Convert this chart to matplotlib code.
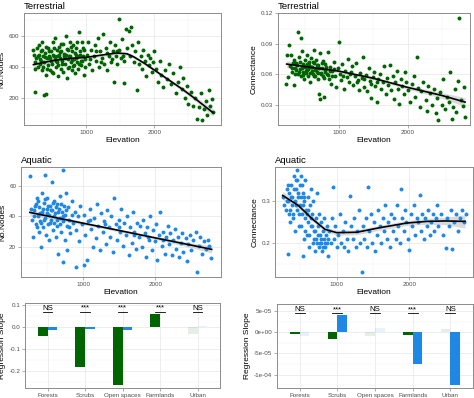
import numpy as np
import matplotlib
matplotlib.use('Agg')
import matplotlib.pyplot as plt
from matplotlib.ticker import MultipleLocator, FixedLocator

plt.rcParams['font.family'] = ['Liberation Sans', 'DejaVu Sans']

W, H = 474, 398
GREEN = '#006400'
BLUE = '#1F88E5'

# ---- Terrestrial, number of nodes ----
tn_elev = [230, 240, 250, 254, 260, 270, 280, 290, 300, 310, 320, 330, 340, 350, 360, 370, 380, 390, 400, 410,
           420, 430, 440, 450, 460, 470, 480, 490, 500, 510, 520, 530, 540, 550, 560, 570, 580, 590, 600, 610,
           620, 630, 640, 650, 660, 670, 680, 690, 700, 710, 720, 730, 740, 750, 760, 770, 780, 790, 800, 810,
           820, 830, 840, 850, 860, 870, 880, 890, 900, 910, 920, 930, 940, 950, 960, 970, 980, 990,
           1010, 1030, 1050, 1070, 1090, 1110, 1130, 1150, 1170, 1190, 1210, 1230, 1250, 1270, 1290, 1310,
           1330, 1350, 1370, 1390, 1405, 1420, 1440, 1460, 1478, 1490, 1510, 1530, 1551, 1560, 1585, 1600,
           1624, 1640, 1663, 1680, 1700, 1720, 1746, 1760, 1780, 1800, 1820, 1840, 1860, 1880, 1900, 1920,
           1940, 1960, 1980, 2000, 2020, 2050, 2080, 2100, 2130, 2160, 2190, 2220, 2250, 2280, 2310, 2340,
           2370, 2400, 2420, 2450, 2480, 2500, 2530, 2560, 2590, 2624, 2650, 2680, 2698, 2720, 2750, 2770,
           2795, 2820, 2844, 2860,
           315, 335, 355, 375, 395, 415, 435, 455, 475, 495, 515, 535, 555, 575, 595, 615, 635, 655, 675, 695,
           715, 735, 755, 775, 795, 815, 835, 855, 875, 895, 915, 945, 975, 1060, 1140, 1220, 1300, 1380,
           1460, 1540]
tn_val = [510, 480, 390, 239, 430, 455, 520, 400, 470, 540, 450, 420, 500, 380, 560, 470, 217, 430, 490, 350,
          228, 460, 520, 410, 470, 380, 440, 500, 420, 560, 360, 470, 450, 590, 400, 510, 430, 340, 480, 530,
          460, 390, 500, 440, 370, 550, 470, 420, 600, 480, 330, 450, 510, 400, 560, 470, 430, 380, 500, 540,
          450, 410, 360, 480, 520, 430, 390, 470, 625, 500, 440, 410, 560, 470, 520, 350, 450, 400,
          480, 560, 420, 510, 380, 470, 540, 440, 590, 400, 500, 460, 610, 420, 520, 380,
          470, 560, 430, 500, 303, 540, 470, 420, 712, 510, 460, 580, 297, 440, 647, 520,
          632, 470, 658, 540, 430, 500, 254, 560, 420, 470, 390, 510, 440, 340, 480, 410,
          460, 370, 430, 500, 390, 300, 440, 350, 270, 380, 320, 420, 290, 360, 230, 300,
          400, 260, 330, 200, 280, 160, 240, 150, 200, 67, 140, 230, 56, 130, 180, 88,
          250, 150, 196, 110,
          480, 440, 510, 400, 465, 530, 390, 500, 455, 370, 480, 520, 440, 470, 410, 495, 545, 420, 485, 455,
          515, 395, 470, 530, 445, 405, 490, 455, 560, 420, 480, 440, 510, 450, 500, 430, 490, 450,
          500, 470]
tn_fit_x = [230, 500, 750, 1000, 1250, 1450, 1600, 1700, 1850, 2000, 2200, 2400, 2600, 2860]
tn_fit = [415, 440, 455, 462, 478, 490, 485, 465, 425, 380, 320, 260, 195, 105]
tn_se = [22, 12, 9, 9, 10, 11, 11, 11, 10, 10, 11, 12, 15, 24]

# ---- Terrestrial, connectance ----
tc_elev = [230, 250, 260, 277, 290, 300, 320, 340, 350, 360, 380, 400, 408, 420, 430, 442, 450, 460, 470, 480,
           490, 500, 510, 520, 530, 540, 550, 560, 570, 580, 590, 600, 610, 620, 630, 640, 650, 660, 670, 680,
           690, 700, 709, 723, 730, 740, 750, 760, 770, 780, 790, 800, 820, 840, 850, 870, 880, 900, 920, 940,
           960, 980, 1000, 1010, 1030, 1050, 1070, 1090, 1110, 1130, 1150, 1170, 1190, 1210, 1230, 1250, 1270,
           1290, 1310, 1330, 1350, 1370, 1390, 1410, 1430, 1450, 1470, 1490, 1510, 1530, 1550, 1570, 1590,
           1610, 1640, 1660, 1680, 1700, 1720, 1740, 1760, 1780, 1800, 1820, 1840, 1860, 1880, 1900, 1920,
           1940, 1960, 1980, 2000, 2030, 2060, 2090, 2110, 2131, 2150, 2180, 2200, 2230, 2260, 2280, 2300,
           2330, 2360, 2390, 2410, 2430, 2447, 2470, 2500, 2520, 2540, 2570, 2600, 2620, 2641, 2660, 2690,
           2710, 2730, 2752, 2770, 2800, 2820, 2835,
           315, 335, 355, 375, 395, 415, 435, 455, 475, 495, 515, 535, 555, 575, 595, 615, 635, 655, 675, 695,
           715, 735, 755, 775, 795, 815, 835, 865, 895, 925, 1060, 1160, 1260, 1360, 1460, 1560]
tc_val = [0.050, 0.079, 0.057, 0.089, 0.068, 0.079, 0.062, 0.074, 0.049, 0.066, 0.071, 0.060, 0.102, 0.077,
          0.065, 0.096, 0.058, 0.083, 0.070, 0.062, 0.055, 0.074, 0.067, 0.061, 0.079, 0.064, 0.058, 0.072,
          0.069, 0.052, 0.076, 0.063, 0.067, 0.060, 0.084, 0.071, 0.058, 0.065, 0.074, 0.062, 0.055, 0.069,
          0.040, 0.036, 0.081, 0.061, 0.066, 0.058, 0.073, 0.038, 0.064, 0.070, 0.060, 0.082, 0.055, 0.067,
          0.050, 0.063, 0.072, 0.058, 0.047, 0.066, 0.092, 0.060, 0.054, 0.070, 0.045, 0.063, 0.057, 0.075,
          0.052, 0.062, 0.068, 0.049, 0.058, 0.071, 0.054, 0.044, 0.061, 0.056, 0.077, 0.047, 0.059, 0.043,
          0.066, 0.053, 0.037, 0.057, 0.062, 0.048, 0.033, 0.055, 0.060, 0.045, 0.052, 0.068, 0.040, 0.056,
          0.049, 0.069, 0.044, 0.058, 0.036, 0.052, 0.063, 0.045, 0.031, 0.055, 0.048, 0.040, 0.062, 0.052,
          0.044, 0.033, 0.050, 0.058, 0.038, 0.0765, 0.046, 0.028, 0.043, 0.052, 0.035, 0.024, 0.048, 0.041,
          0.030, 0.045, 0.022, 0.037, 0.0145, 0.042, 0.030, 0.055, 0.026, 0.038, 0.033, 0.062, 0.016, 0.028,
          0.045, 0.023, 0.053, 0.115, 0.035, 0.029, 0.047, 0.018,
          0.066, 0.071, 0.060, 0.064, 0.069, 0.062, 0.072, 0.066, 0.059, 0.068, 0.063, 0.070, 0.065, 0.061,
          0.067, 0.072, 0.058, 0.064, 0.069, 0.061, 0.066, 0.060, 0.071, 0.056, 0.062, 0.067, 0.059, 0.063,
          0.058, 0.065, 0.058, 0.060, 0.052, 0.055, 0.050, 0.052]
tc_fit_x = [238, 1000, 1500, 2000, 2500, 2835]
tc_fit = [0.0700, 0.0630, 0.0560, 0.0470, 0.0390, 0.0325]
tc_se = [0.0035, 0.0016, 0.0016, 0.0018, 0.0028, 0.0045]

# ---- Aquatic, number of nodes ----
an_elev = [255, 270, 290, 300, 320, 340, 350, 360, 370, 380, 390, 400, 410, 420, 430, 440, 450, 463, 470, 480,
           490, 500, 510, 520, 530, 540, 550, 560, 570, 580, 590, 600, 610, 620, 630, 640, 650, 660, 670, 680,
           690, 700, 713, 713, 720, 730, 740, 750, 760, 770, 780, 790, 800, 820, 840, 860, 880, 898, 900, 920,
           940, 960, 980, 1005, 1010, 1030, 1050, 1070, 1090, 1110, 1130, 1150, 1170, 1190, 1210, 1230, 1250,
           1270, 1290, 1310, 1330, 1350, 1370, 1390, 1410, 1430, 1450, 1470, 1490, 1510, 1530, 1550, 1570,
           1590, 1610, 1630, 1650, 1670, 1690, 1710, 1730, 1750, 1770, 1790, 1810, 1830, 1850, 1870, 1890,
           1910, 1930, 1950, 1970, 1990, 2010, 2030, 2050, 2070, 2090, 2110, 2130, 2150, 2170, 2190, 2210,
           2230, 2250, 2270, 2290, 2310, 2330, 2350, 2370, 2390, 2420, 2440, 2460, 2480, 2500, 2530, 2560,
           2579, 2600, 2620, 2650, 2680, 2700, 2730, 2750, 2769,
           315, 335, 355, 375, 395, 415, 435, 455, 475, 495, 515, 535, 555, 575, 595, 615, 635, 655, 675, 695,
           725, 765, 805, 845, 1100, 1300, 1500, 1700, 1900, 2100]
an_val = [66, 45, 38, 27, 44, 35, 48, 52, 40, 30, 46, 37, 20, 43, 55, 33, 49, 67, 39, 28,
          45, 52, 35, 41, 25, 47, 38, 62, 44, 31, 50, 36, 42, 27, 48, 34, 16, 45, 39, 53,
          30, 43, 70, 10.7, 37, 47, 25, 41, 55, 34, 18, 46, 38, 29, 50, 36, 43, 7.5, 31, 40,
          24, 47, 35, 8.5, 41, 28, 12, 37, 45, 32, 20, 39, 26, 48, 34, 18, 42,
          30, 37, 22, 44, 33, 27, 40, 17, 52, 35, 25, 38, 30, 45, 21, 36,
          28, 40, 15, 33, 23, 43, 30, 19, 36, 27, 34, 20, 38, 29, 14, 33,
          25, 40, 18, 31, 24, 35, 12, 28, 43, 21, 30, 16, 27, 34, 22, 29,
          15, 25, 32, 19, 27, 14, 23, 29, 17, 26, 11, 22, 28, 18, 25, 30,
          4, 21, 27, 16, 24, 19, 25, 21, 13,
          40, 47, 33, 50, 42, 36, 45, 38, 51, 42, 47, 36, 44, 49, 40, 46, 38, 43, 35, 48,
          40, 44, 33, 41, 38, 35, 33, 28, 27, 25]
an_fit_x = [258, 1000, 1500, 2000, 2500, 2782]
an_fit = [42.6, 35.6, 30.9, 26.1, 21.4, 18.7]
an_se = [2.0, 1.0, 0.9, 1.0, 1.6, 2.4]

# ---- Aquatic, connectance ----
ac_elev = [260, 280, 300, 310, 326, 330, 340, 350, 360, 370, 380, 390, 400, 410, 420, 430, 440, 450, 455, 460,
           470, 480, 490, 500, 510, 520, 530, 541, 545, 550, 560, 570, 580, 590, 600, 610, 620, 630, 640, 650,
           660, 670, 680, 690, 700, 710, 720, 730, 740, 750, 760, 770, 780, 790, 800, 810, 820, 830, 840, 850,
           860, 870, 880, 900, 920, 940, 954, 960, 980, 1000, 1020, 1040, 1060, 1080, 1100, 1120, 1140, 1160,
           1183, 1200, 1220, 1240, 1260, 1280, 1300, 1320, 1344, 1360, 1380, 1400, 1420, 1436, 1450, 1470,
           1490, 1510, 1530, 1550, 1570, 1590, 1610, 1630, 1650, 1670, 1690, 1710, 1730, 1750, 1770, 1790,
           1810, 1830, 1850, 1870, 1885, 1900, 1920, 1940, 1960, 1980, 2000, 2020, 2040, 2060, 2080, 2100,
           2120, 2147, 2160, 2180, 2200, 2220, 2240, 2260, 2280, 2300, 2320, 2340, 2360, 2380, 2400, 2430,
           2460, 2500, 2520, 2550, 2570, 2592, 2610, 2640, 2670, 2700, 2720, 2750, 2780,
           315, 335, 355, 375, 395, 415, 435, 445, 465, 485, 505, 515, 525, 535, 555, 565, 585, 605, 625, 645,
           665, 685, 705, 725, 745, 765, 785, 805, 845, 885]
ac_val = [0.31, 0.29, 0.28, 0.33, 0.173, 0.30, 0.27, 0.32, 0.25, 0.34, 0.29, 0.31, 0.26, 0.36, 0.30, 0.23,
          0.33, 0.374, 0.28, 0.35, 0.31, 0.24, 0.34, 0.29, 0.36, 0.27, 0.32, 0.169, 0.21, 0.30, 0.26, 0.35,
          0.28, 0.22, 0.31, 0.25, 0.19, 0.29, 0.33, 0.24, 0.27, 0.20, 0.30, 0.23, 0.18, 0.26, 0.21, 0.32,
          0.24, 0.19, 0.27, 0.22, 0.20, 0.25, 0.18, 0.23, 0.21, 0.26, 0.19, 0.22, 0.20, 0.24, 0.17, 0.23,
          0.20, 0.26, 0.334, 0.21, 0.24, 0.19, 0.22, 0.27, 0.20, 0.23, 0.19, 0.25, 0.21, 0.18, 0.312, 0.24,
          0.21, 0.26, 0.19, 0.23, 0.28, 0.20, 0.13, 0.24, 0.21, 0.26, 0.19, 0.334, 0.23, 0.27, 0.20, 0.25,
          0.18, 0.22, 0.28, 0.24, 0.20, 0.26, 0.23, 0.29, 0.21, 0.25, 0.19, 0.27, 0.23, 0.26, 0.21, 0.29,
          0.24, 0.20, 0.330, 0.26, 0.23, 0.28, 0.25, 0.21, 0.183, 0.27, 0.24, 0.29, 0.22, 0.26, 0.25, 0.314,
          0.23, 0.27, 0.21, 0.26, 0.24, 0.28, 0.22, 0.25, 0.27, 0.23, 0.26, 0.29, 0.24, 0.27, 0.22, 0.189,
          0.26, 0.24, 0.28, 0.187, 0.25, 0.27, 0.23, 0.26, 0.28, 0.25, 0.27,
          0.30, 0.34, 0.28, 0.31, 0.27, 0.33, 0.29, 0.35, 0.32, 0.27, 0.31, 0.24, 0.34, 0.29, 0.31, 0.23,
          0.27, 0.28, 0.22, 0.26, 0.24, 0.21, 0.23, 0.20, 0.22, 0.20, 0.21, 0.19, 0.20, 0.21]
ac_fit_x = [257, 472, 656, 839, 1000, 1275, 1596, 1963, 2239, 2500, 2766]
ac_fit = [0.314, 0.290, 0.259, 0.233, 0.225, 0.226, 0.237, 0.248, 0.252, 0.253, 0.252]
ac_se = [0.010, 0.007, 0.006, 0.006, 0.006, 0.006, 0.006, 0.006, 0.007, 0.009, 0.016]

# ---- regression slopes by land use ----
landuse = ['Forests', 'Scrubs', 'Open spaces', 'Farmlands', 'Urban']
slope_nodes_terr = [-0.039, -0.182, -0.264, 0.058, -0.033]
slope_nodes_aqua = [-0.012, -0.009, -0.016, 0.001, 0.006]
sig_nodes_terr = [True, True, True, True, False]
sig_nodes_aqua = [True, True, True, False, False]
test_nodes = ['NS', '***', '***', '***', 'NS']

slope_conn_terr = [-4.5e-06, -1.67e-05, -1.0e-05, -7.0e-06, 8.0e-06]
slope_conn_aqua = [-1.0e-05, 3.97e-05, 9.5e-06, -7.6e-05, -1.24e-04]
sig_conn_terr = [True, True, False, True, False]
sig_conn_aqua = [False, True, False, True, True]
test_conn = ['NS', '***', 'NS', '***', 'NS']


def make_axes(l, t, r, b):
    return fig.add_axes([l / W, 1 - b / H, (r - l) / W, (b - t) / H])


def style(ax):
    ax.set_facecolor('white')
    for s in ax.spines.values():
        s.set_color('#8c8c8c')
        s.set_linewidth(0.7)
    ax.grid(True, which='major', color='#e6e6e6', lw=0.5)
    ax.grid(True, which='minor', color='#f2f2f2', lw=0.35)
    ax.set_axisbelow(True)
    ax.tick_params(which='major', length=2, width=0.5, color='#8c8c8c', labelsize=4.5,
                   labelcolor='#4d4d4d', pad=1.5)
    ax.tick_params(which='minor', length=0)


def scatter_panel(ax, x, y, fx, fy, se, color, title, ylabel):
    style(ax)
    fx = np.array(fx)
    fy = np.array(fy)
    se = np.array(se)
    ax.fill_between(fx, fy - se, fy + se, color='#bdbdbd', alpha=0.55, lw=0, zorder=2)
    ax.scatter(x, y, s=8, color=color, lw=0, zorder=3)
    ax.plot(fx, fy, color='black', lw=1.2, zorder=4)
    ax.set_title(title, loc='left', fontsize=6.8, pad=3)
    ax.set_xlabel('Elevation', fontsize=6, labelpad=1.5)
    ax.set_ylabel(ylabel, fontsize=6, labelpad=2)
    ax.xaxis.set_major_locator(FixedLocator([1000, 2000]))
    ax.xaxis.set_minor_locator(MultipleLocator(500))


def bar_panel(ax, green, blue, gsig, bsig, tests, yline, ylabel):
    style(ax)
    pos = np.arange(1, len(landuse) + 1)
    bw = 0.26
    for i in range(len(landuse)):
        ax.bar(pos[i] - bw / 2, green[i], width=bw, color=GREEN, alpha=1 if gsig[i] else 0.1, zorder=3)
        ax.bar(pos[i] + bw / 2, blue[i], width=bw, color=BLUE, alpha=1 if bsig[i] else 0.1, zorder=3)
        ax.plot([pos[i] - bw / 2, pos[i] + bw / 2], [yline, yline], color='black', lw=0.6, zorder=4)
        ax.text(pos[i], yline, tests[i], ha='center', va='bottom', fontsize=5.6, zorder=5)
    ax.set_xticks(pos)
    ax.set_xticklabels(landuse)
    ax.set_xlim(0.4, 5.6)
    ax.set_ylabel(ylabel, fontsize=6, labelpad=2)


fig = plt.figure(figsize=(W / 100, H / 100), dpi=100)

ax1 = make_axes(24, 13, 221, 125)
scatter_panel(ax1, tn_elev, tn_val, tn_fit_x, tn_fit, tn_se, GREEN, 'Terrestrial', 'No.Nodes')
ax1.set_xlim(92, 2976)
ax1.set_ylim(26, 748)
ax1.yaxis.set_major_locator(FixedLocator([200, 400, 600]))
ax1.yaxis.set_minor_locator(MultipleLocator(100))

ax2 = make_axes(278, 13, 470, 125)
scatter_panel(ax2, tc_elev, tc_val, tc_fit_x, tc_fit, tc_se, GREEN, 'Terrestrial', 'Connectance')
ax2.set_xlim(112, 2907)
ax2.set_ylim(0.0099, 0.1204)
ax2.yaxis.set_major_locator(FixedLocator([0.03, 0.06, 0.09, 0.12]))
ax2.yaxis.set_minor_locator(MultipleLocator(0.015))

ax3 = make_axes(21, 167, 221, 277)
scatter_panel(ax3, an_elev, an_val, an_fit_x, an_fit, an_se, BLUE, 'Aquatic', 'No.Nodes')
ax3.set_xlim(135, 2912)
ax3.set_ylim(0.8, 72)
ax3.yaxis.set_major_locator(FixedLocator([20, 40, 60]))
ax3.yaxis.set_minor_locator(MultipleLocator(10))

ax4 = make_axes(275, 167, 473, 277)
scatter_panel(ax4, ac_elev, ac_val, ac_fit_x, ac_fit, ac_se, BLUE, 'Aquatic', 'Connectance')
ax4.set_xlim(151, 2875)
ax4.set_ylim(0.119, 0.382)
ax4.yaxis.set_major_locator(FixedLocator([0.2, 0.3]))
ax4.yaxis.set_minor_locator(MultipleLocator(0.05))

ax5 = make_axes(25, 303, 220, 388)
bar_panel(ax5, slope_nodes_terr, slope_nodes_aqua, sig_nodes_terr, sig_nodes_aqua, test_nodes,
          0.068, 'Regression Slope')
ax5.set_ylim(-0.2758, 0.1076)
ax5.yaxis.set_major_locator(FixedLocator([-0.2, -0.1, 0.0, 0.1]))
ax5.yaxis.set_minor_locator(MultipleLocator(0.05))
ax5.set_yticklabels(['-0.2', '-0.1', '0.0', '0.1'])

ax6 = make_axes(277, 304, 473, 388)
bar_panel(ax6, slope_conn_terr, slope_conn_aqua, sig_conn_terr, sig_conn_aqua, test_conn,
          4.44e-05, 'Regression Slope')
ax6.set_ylim(-1.317e-04, 6.67e-05)
ax6.yaxis.set_major_locator(FixedLocator([-1e-04, -5e-05, 0, 5e-05]))
ax6.yaxis.set_minor_locator(MultipleLocator(2.5e-05))
ax6.set_yticklabels(['-1e-04', '-5e-05', '0e+00', '5e-05'])

fig.savefig('out.png', dpi=100, facecolor='white')
